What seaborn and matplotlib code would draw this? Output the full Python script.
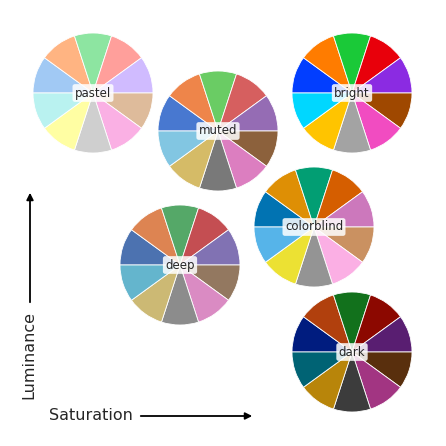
import matplotlib
matplotlib.use("Agg")
import matplotlib.pyplot as plt
import seaborn as sns

sns.set_style("white")

# palette names and where each pie sits (pixel coords in a 446x446 frame)
palettes = ["pastel", "muted", "bright", "colorblind", "deep", "dark"]
centers_x = [93, 218, 352, 314, 180, 352]
centers_y = [93, 131, 93, 227, 265, 352]
radius = 60

fig = plt.figure(figsize=(4.46, 4.46), dpi=100)
ax = fig.add_axes([0, 0, 1, 1])

for name, cx, cy in zip(palettes, centers_x, centers_y):
    colors = sns.color_palette(name, 10)
    # y axis is inverted below, so counterclock=True reads clockwise on screen
    ax.pie([1] * 10, colors=colors, center=(cx, cy), radius=radius,
           startangle=180, counterclock=True,
           wedgeprops=dict(edgecolor="white", linewidth=0.6))
    ax.text(cx, cy, name, ha="center", va="center", fontsize=8.5,
            bbox=dict(boxstyle="round,pad=0.2", fc="white", ec="none", alpha=0.85))

ax.set_xlim(0, 446)
ax.set_ylim(446, 0)
ax.set_aspect("equal")
ax.axis("off")

# axis arrows
ax.annotate("", xy=(255, 416), xytext=(138, 416),
            arrowprops=dict(arrowstyle="-|>", color="black", lw=1.3))
ax.text(91, 416, "Saturation", ha="center", va="center", fontsize=11.5)
ax.annotate("", xy=(30, 190), xytext=(30, 305),
            arrowprops=dict(arrowstyle="-|>", color="black", lw=1.3))
ax.text(29, 355, "Luminance", ha="center", va="center", fontsize=11.5, rotation=90)

fig.savefig("out.png", dpi=100)
